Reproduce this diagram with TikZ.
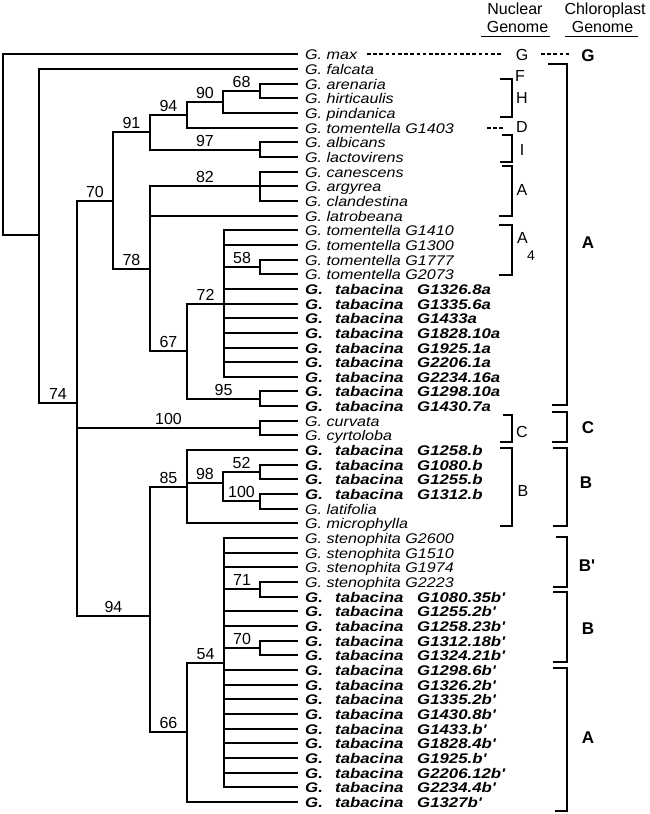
\documentclass[tikz,border=0pt]{standalone}
\usepackage{fontspec}
\setmainfont{Liberation Sans}
\newfontfamily\leaffont[FakeStretch=1.15]{Liberation Sans}
\newfontfamily\tabfont[FakeStretch=1.2]{Liberation Sans}
\newcommand\tabname[1]{\makebox[30pt][l]{G.}\makebox[82pt][l]{tabacina}#1}
\newcommand\pq{\textquotesingle}
\begin{document}
\begin{tikzpicture}[x=1pt,y=-1pt,
  declare function={ly(\i)=round(54.3+14.66*(\i-1));},
  edge/.style={line width=1.8pt},
  brk/.style={line width=1.6pt},
  uline/.style={line width=1.2pt},
  dash line/.style={line width=1.3pt, dash pattern=on 3.5pt off 2.7pt},
  taxon/.style={anchor=base west, inner sep=0pt, font=\leaffont\fontsize{14}{14}\selectfont\itshape},
  tab/.style={anchor=base west, inner sep=0pt, font=\tabfont\fontsize{14}{14}\selectfont\bfseries\itshape},
  boot/.style={anchor=south, inner sep=0pt, yshift=2.5pt, font=\fontsize{16}{16}\selectfont},
  nuc/.style={anchor=base, inner sep=0pt, font=\fontsize{16}{16}\selectfont},
  chl/.style={anchor=base, inner sep=0pt, font=\fontsize{17}{17}\selectfont\bfseries},
]
\useasboundingbox (0,0) rectangle (650,814);

% leaf tips
\foreach \i in {1,...,52} \coordinate (l\i) at (298,{ly(\i)});

% internal nodes
\coordinate (root) at (3,145);
\coordinate (n39) at (39,235);
\coordinate (n74) at (77,403);
\coordinate (n70) at (113,201);
\coordinate (n91) at (150,132);
\coordinate (n94) at (187,115);
\coordinate (n90) at (223,102);
\coordinate (n68) at (260,91);
\coordinate (n97) at (260,150);
\coordinate (n78) at (150,269);
\coordinate (n82) at (260,{ly(10)});
\coordinate (n67) at (187,351);
\coordinate (n72) at (224,{ly(18)});
\coordinate (n58) at (260,267);
\coordinate (n95) at (260,399);
\coordinate (nC) at (260,428);
\coordinate (n94b) at (150,616);
\coordinate (n85) at (187,487);
\coordinate (n98) at (223,483);
\coordinate (n52) at (260,472);
\coordinate (n100) at (260,501);
\coordinate (n66) at (187,732);
\coordinate (n54) at (224,663);
\coordinate (n71) at (260,589);
\coordinate (n70b) at (260,648);

% tree edges
\begin{scope}[edge]
\draw (root) |- (l1);
\draw (root) |- (n39);
\draw (n39) |- (l2);
\draw (n39) |- node[boot,pos=0.75]{74} (n74);
\draw (n74) |- node[boot,pos=0.75]{70} (n70);
\draw (n74) |- node[boot,pos=0.75]{100} (nC);
\draw (n74) |- node[boot,pos=0.75]{94} (n94b);
\draw (n70) |- node[boot,pos=0.75]{91} (n91);
\draw (n70) |- node[boot,pos=0.75]{78} (n78);
\draw (n91) |- node[boot,pos=0.75]{94} (n94);
\draw (n91) |- node[boot,pos=0.75]{97} (n97);
\draw (n94) |- node[boot,pos=0.75]{90} (n90);
\draw (n94) |- (l6);
\draw (n90) |- node[boot,pos=0.75]{68} (n68);
\draw (n90) |- (l5);
\draw (n68) |- (l3); \draw (n68) |- (l4);
\draw (n97) |- (l7); \draw (n97) |- (l8);
\draw (n78) |- node[boot,pos=0.75]{82} (n82);
\draw (n78) |- (l12);
\draw (n78) |- node[boot,pos=0.75]{67} (n67);
\draw (n82) |- (l9); \draw (n82) |- (l10); \draw (n82) |- (l11);
\draw (n67) |- node[boot,pos=0.75]{72} (n72);
\draw (n67) |- node[boot,pos=0.75]{95} (n95);
\draw (n72) |- (l13); \draw (n72) |- (l14);
\draw (n72) |- node[boot,pos=0.75]{58} (n58);
\foreach \i in {17,...,23} \draw (n72) |- (l\i);
\draw (n58) |- (l15); \draw (n58) |- (l16);
\draw (n95) |- (l24); \draw (n95) |- (l25);
\draw (nC) |- (l26); \draw (nC) |- (l27);
\draw (n94b) |- node[boot,pos=0.75]{85} (n85);
\draw (n94b) |- node[boot,pos=0.75]{66} (n66);
\draw (n85) |- (l28);
\draw (n85) |- node[boot,pos=0.75]{98} (n98);
\draw (n85) |- (l33);
\draw (n98) |- node[boot,pos=0.75]{52} (n52);
\draw (n98) |- node[boot,pos=0.75]{100} (n100);
\draw (n52) |- (l29); \draw (n52) |- (l30);
\draw (n100) |- (l31); \draw (n100) |- (l32);
\draw (n66) |- node[boot,pos=0.75]{54} (n54);
\draw (n66) |- (l52);
\draw (n54) |- (l34); \draw (n54) |- (l35); \draw (n54) |- (l36);
\draw (n54) |- node[boot,pos=0.75]{71} (n71);
\draw (n54) |- (l39); \draw (n54) |- (l40);
\draw (n54) |- node[boot,pos=0.75]{70} (n70b);
\foreach \i in {43,...,51} \draw (n54) |- (l\i);
\draw (n71) |- (l37); \draw (n71) |- (l38);
\draw (n70b) |- (l41); \draw (n70b) |- (l42);
\end{scope}

% taxon labels
\node[taxon] (t1) at (305,{ly(1)+5}) {G. max};
\node[taxon] (t2) at (305,{ly(2)+5}) {G. falcata};
\node[taxon] (t3) at (305,{ly(3)+5}) {G. arenaria};
\node[taxon] (t4) at (305,{ly(4)+5}) {G. hirticaulis};
\node[taxon] (t5) at (305,{ly(5)+5}) {G. pindanica};
\node[taxon] (t6) at (305,{ly(6)+5}) {G. tomentella G1403};
\node[taxon] (t7) at (305,{ly(7)+5}) {G. albicans};
\node[taxon] (t8) at (305,{ly(8)+5}) {G. lactovirens};
\node[taxon] (t9) at (305,{ly(9)+5}) {G. canescens};
\node[taxon] (t10) at (305,{ly(10)+5}) {G. argyrea};
\node[taxon] (t11) at (305,{ly(11)+5}) {G. clandestina};
\node[taxon] (t12) at (305,{ly(12)+5}) {G. latrobeana};
\node[taxon] (t13) at (305,{ly(13)+5}) {G. tomentella G1410};
\node[taxon] (t14) at (305,{ly(14)+5}) {G. tomentella G1300};
\node[taxon] (t15) at (305,{ly(15)+5}) {G. tomentella G1777};
\node[taxon] (t16) at (305,{ly(16)+5}) {G. tomentella G2073};
\node[tab] (t17) at (305,{ly(17)+5}) {\tabname{G1326.8a}};
\node[tab] (t18) at (305,{ly(18)+5}) {\tabname{G1335.6a}};
\node[tab] (t19) at (305,{ly(19)+5}) {\tabname{G1433a}};
\node[tab] (t20) at (305,{ly(20)+5}) {\tabname{G1828.10a}};
\node[tab] (t21) at (305,{ly(21)+5}) {\tabname{G1925.1a}};
\node[tab] (t22) at (305,{ly(22)+5}) {\tabname{G2206.1a}};
\node[tab] (t23) at (305,{ly(23)+5}) {\tabname{G2234.16a}};
\node[tab] (t24) at (305,{ly(24)+5}) {\tabname{G1298.10a}};
\node[tab] (t25) at (305,{ly(25)+5}) {\tabname{G1430.7a}};
\node[taxon] (t26) at (305,{ly(26)+5}) {G. curvata};
\node[taxon] (t27) at (305,{ly(27)+5}) {G. cyrtoloba};
\node[tab] (t28) at (305,{ly(28)+5}) {\tabname{G1258.b}};
\node[tab] (t29) at (305,{ly(29)+5}) {\tabname{G1080.b}};
\node[tab] (t30) at (305,{ly(30)+5}) {\tabname{G1255.b}};
\node[tab] (t31) at (305,{ly(31)+5}) {\tabname{G1312.b}};
\node[taxon] (t32) at (305,{ly(32)+5}) {G. latifolia};
\node[taxon] (t33) at (305,{ly(33)+5}) {G. microphylla};
\node[taxon] (t34) at (305,{ly(34)+5}) {G. stenophita G2600};
\node[taxon] (t35) at (305,{ly(35)+5}) {G. stenophita G1510};
\node[taxon] (t36) at (305,{ly(36)+5}) {G. stenophita G1974};
\node[taxon] (t37) at (305,{ly(37)+5}) {G. stenophita G2223};
\node[tab] (t38) at (305,{ly(38)+5}) {\tabname{G1080.35b\pq}};
\node[tab] (t39) at (305,{ly(39)+5}) {\tabname{G1255.2b\pq}};
\node[tab] (t40) at (305,{ly(40)+5}) {\tabname{G1258.23b\pq}};
\node[tab] (t41) at (305,{ly(41)+5}) {\tabname{G1312.18b\pq}};
\node[tab] (t42) at (305,{ly(42)+5}) {\tabname{G1324.21b\pq}};
\node[tab] (t43) at (305,{ly(43)+5}) {\tabname{G1298.6b\pq}};
\node[tab] (t44) at (305,{ly(44)+5}) {\tabname{G1326.2b\pq}};
\node[tab] (t45) at (305,{ly(45)+5}) {\tabname{G1335.2b\pq}};
\node[tab] (t46) at (305,{ly(46)+5}) {\tabname{G1430.8b\pq}};
\node[tab] (t47) at (305,{ly(47)+5}) {\tabname{G1433.b\pq}};
\node[tab] (t48) at (305,{ly(48)+5}) {\tabname{G1828.4b\pq}};
\node[tab] (t49) at (305,{ly(49)+5}) {\tabname{G1925.b\pq}};
\node[tab] (t50) at (305,{ly(50)+5}) {\tabname{G2206.12b\pq}};
\node[tab] (t51) at (305,{ly(51)+5}) {\tabname{G2234.4b\pq}};
\node[tab] (t52) at (305,{ly(52)+5}) {\tabname{G1327b\pq}};

% headers
\node[nuc] (hn1) at (515,14) {Nuclear};
\node[nuc] (hn2) at (517.5,32.5) {Genome};
\node[nuc] (hc1) at (605,14) {Chloroplast};
\node[nuc] (hc2) at (602.5,32.5) {Genome};
\draw[uline] (481,36.5) -- (550,36.5);
\draw[uline] (565,36.5) -- (638,36.5);

% nuclear genome labels
\node[nuc] (gG) at (522,60.7) {G};
\node[nuc] (gF) at (520,81.7) {F};
\node[nuc] (gH) at (522,103.7) {H};
\node[nuc] (gD) at (522,132.7) {D};
\node[nuc] (gI) at (522,155.7) {I};
\node[nuc] (gA) at (522,195.7) {A};
\node[nuc] (gA4) at (522.5,243.7) {A};
\node[anchor=base, inner sep=0pt, font=\fontsize{14}{14}\selectfont] (gA4s) at (531,260) {4};
\node[nuc] (gC) at (522,437.7) {C};
\node[nuc] (gB) at (523,496.2) {B};

% chloroplast genome labels
\node[chl] (cG) at (588,61) {G};
\node[chl] (cA1) at (588,248.5) {A};
\node[chl] (cC) at (588,433) {C};
\node[chl] (cB1) at (586,488) {B};
\node[chl] (cBp) at (587,571) {B\pq};
\node[chl] (cB2) at (588,634) {B};
\node[chl] (cA2) at (588,743.5) {A};

% dashed connectors
\coordinate (dmaxA) at (367,54);
\coordinate (dmaxB) at (503,54);
\coordinate (dgA) at (541,54);
\coordinate (dgB) at (570,54);
\coordinate (ddA) at (487,128);
\coordinate (ddB) at (505,128);
\draw[dash line] (dmaxA) -- (dmaxB);
\draw[dash line] (dgA) -- (dgB);
\draw[dash line] (ddA) -- (ddB);

% nuclear brackets
\begin{scope}[brk]
\draw (500,79) -- (512,79) -- (512,117) -- (500,117);
\draw (502,135) -- (512,135) -- (512,162) -- (500,162);
\draw (502,166) -- (512,166) -- (512,216) -- (499,216);
\draw (499,225) -- (512,225) -- (512,275) -- (499,275);
\draw (503,415) -- (512,415) -- (512,442) -- (500,442);
\draw (500,448) -- (512,448) -- (512,526) -- (500,526);
% chloroplast brackets
\draw (548,64) -- (567,64) -- (567,405) -- (552,405);
\draw (552,412) -- (567,412) -- (567,442) -- (552,442);
\draw (553,448) -- (567,448) -- (567,526) -- (553,526);
\draw (556,537) -- (567,537) -- (567,587) -- (553,587);
\draw (553,592) -- (567,592) -- (567,662) -- (553,662);
\draw (553,668) -- (567,668) -- (567,811) -- (555,811);
\end{scope}
\end{tikzpicture}
\end{document}
